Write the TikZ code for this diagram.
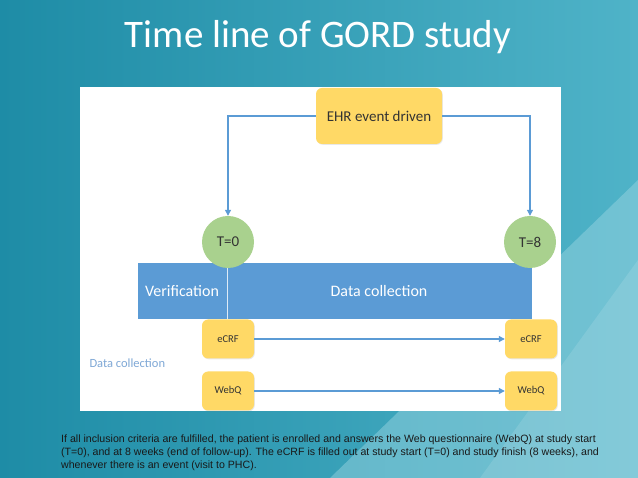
\documentclass[tikz,border=0pt]{standalone}
\usepackage{fontspec}
\setmainfont{Carlito}
\newfontfamily\arialf{Liberation Sans}
\usetikzlibrary{arrows.meta,shadows}
\definecolor{tealA}{HTML}{1E8CA6}
\definecolor{tealB}{HTML}{4FB3C8}
\definecolor{tealC}{HTML}{9ED7E3}
\definecolor{yel}{HTML}{FFD966}
\definecolor{grn}{HTML}{A9D18E}
\definecolor{blu}{HTML}{5B9BD5}
\definecolor{lbl}{HTML}{7FA8D6}
\definecolor{txt}{HTML}{333333}
\tikzset{
  ybox/.style={fill=yel, rounded corners=6pt, draw=none, text=txt, align=center,
    drop shadow={shadow xshift=0.8pt, shadow yshift=-0.8pt, opacity=0.18}},
  tcirc/.style={circle, fill=grn, minimum size=52pt, inner sep=0pt, text=txt, font=\fontsize{15}{17}\selectfont},
  conn/.style={draw=blu, line width=1.1pt, -{Triangle[length=6pt,width=6pt]}},
}
\begin{document}
\begin{tikzpicture}[x=1pt,y=-1pt]
\useasboundingbox (0,0) rectangle (638,478);
% background
\shade[left color=tealA, right color=tealB] (0,0) rectangle (638,478);
\fill[tealC, opacity=0.45] (638,180) -- (638,478) -- (330,478) -- cycle;
\fill[white, opacity=0.12] (638,260) -- (638,478) -- (480,478) -- cycle;
% title
\node[text=white, font=\fontsize{39}{44}\selectfont] (title) at (318,37) {Time line of GORD study};
% panel
\fill[white] (80,87) rectangle (561,411);
% EHR box
\node[ybox, minimum width=126pt, minimum height=56pt, font=\fontsize{15}{17}\selectfont] (ehr) at (379,116) {EHR event driven};
% blue bar
\fill[blu] (138,263) rectangle (532,319);
\draw[white!80!blu, line width=0.6pt] (227,263) -- (227,319);
\node[text=white, font=\fontsize{16}{18}\selectfont] (verif) at (182,291) {Verification};
\node[text=white, font=\fontsize{16}{18}\selectfont] (dcol) at (379,291) {Data collection};
% circles
\node[tcirc] (t0) at (228,242) {T=0};
\node[tcirc] (t8) at (530,242) {T=8};
% connectors from EHR
\draw[conn] (ehr.west) -| (t0.north);
\draw[conn] (ehr.east) -| (t8.north);
% eCRF / WebQ
\node[ybox, minimum width=52pt, minimum height=39pt, font=\fontsize{10.5}{12}\selectfont] (e1) at (228,339) {eCRF};
\node[ybox, minimum width=52pt, minimum height=39pt, font=\fontsize{10.5}{12}\selectfont] (e2) at (531,339) {eCRF};
\node[ybox, minimum width=52pt, minimum height=39pt, font=\fontsize{10.5}{12}\selectfont] (w1) at (228,391) {WebQ};
\node[ybox, minimum width=52pt, minimum height=39pt, font=\fontsize{10.5}{12}\selectfont] (w2) at (531,391) {WebQ};
\draw[conn] (e1) -- (e2);
\draw[conn] (w1) -- (w2);
\node[text=lbl, font=\fontsize{12.5}{14}\selectfont, anchor=west] (dlab) at (86,363) {Data collection};
% bottom text
\node[anchor=north west, inner sep=0pt, text=black!90, align=left, font=\arialf\fontsize{10.6}{13}\selectfont] (note) at (61,435)
{If all inclusion criteria are fulfilled, the patient is enrolled and answers the Web questionnaire (WebQ) at study start\\
(T=0), and at 8 weeks (end of follow-up). The eCRF is filled out at study start (T=0) and study finish (8 weeks), and\\
whenever there is an event (visit to PHC).};
\end{tikzpicture}
\end{document}
